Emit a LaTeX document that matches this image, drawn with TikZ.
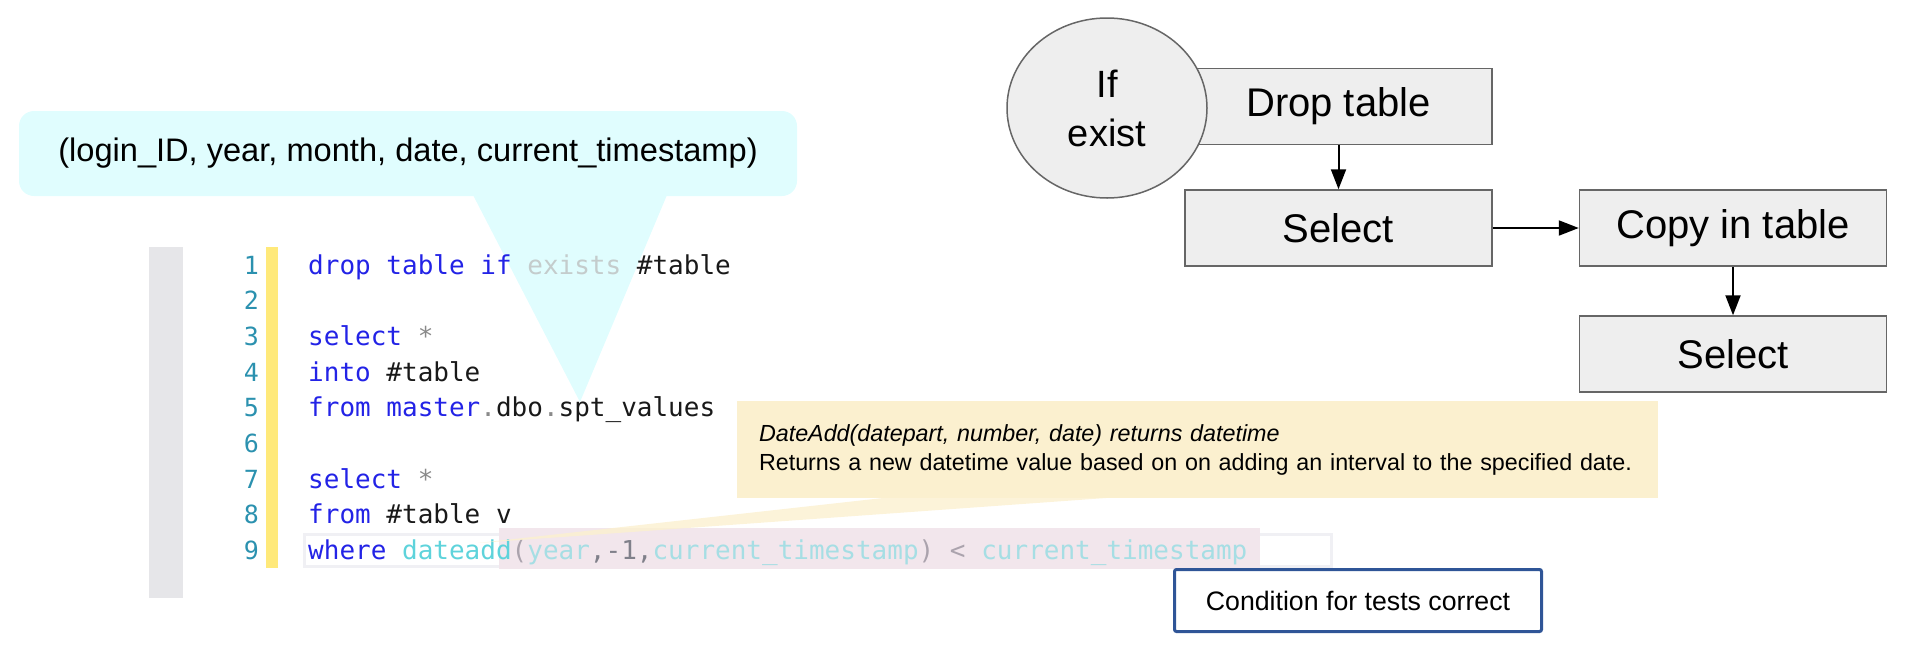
\documentclass[tikz,border=0pt]{standalone}
\usepackage{fontspec}
\setmainfont{Liberation Sans}
\newfontfamily\codefont{DejaVu Sans Mono}
\usetikzlibrary{shapes.geometric,arrows.meta}

\definecolor{boxfill}{HTML}{EEEEEE}
\definecolor{boxline}{HTML}{666666}
\definecolor{tipcyan}{HTML}{E0FDFE}
\definecolor{tipyellow}{HTML}{FBF0CF}
\definecolor{condblue}{HTML}{2F5597}
\definecolor{kwblue}{HTML}{2323E6}
\definecolor{lnteal}{HTML}{2B91AF}
\definecolor{fngray}{HTML}{8A8A8A}
\definecolor{lightgray}{HTML}{C4CCCC}
\definecolor{fncyan}{HTML}{5ED3DB}
\definecolor{fadecyan}{HTML}{A6DEE4}
\definecolor{fadegray}{HTML}{ABA3AD}
\definecolor{midgray}{HTML}{80808A}
\definecolor{rowpink}{HTML}{F2E6EC}
\definecolor{rowgray}{HTML}{F0F0F4}
\definecolor{gutter}{HTML}{E6E6E9}
\definecolor{changebar}{HTML}{FFE97A}

\tikzset{
  stepbox/.style={draw=boxline, fill=boxfill, line width=1.5pt, minimum width=307pt,
    minimum height=76pt, inner sep=0pt, font=\fontsize{40}{48}\selectfont},
  flow/.style={-{Triangle[length=20pt,width=15pt]}, line width=2pt},
  codeline/.style={anchor=base west, inner sep=0pt, text=black!90,
    font=\codefont\fontsize{26}{30}\selectfont},
  lineno/.style={anchor=base east, inner sep=0pt, text=lnteal,
    font=\codefont\fontsize{25}{28}\selectfont},
}

\begin{document}
\begin{tikzpicture}[x=1pt,y=-1pt]
    \useasboundingbox (0,0) rectangle (1912,654);

    % editor
    \fill[gutter] (149,247) rectangle (183,598);
    \fill[changebar] (266,247) rectangle (278,568);
    \draw[rowgray, line width=3pt] (304.5,534.5) rectangle (1331.5,566.5);
    \fill[rowpink] (499,528) rectangle (1260,569);
    \foreach \n in {1,...,9}
      \node[lineno] (num\n) at (259,{274+(\n-1)*35.7}) {\n};

    % field list callout
    \node[fill=tipcyan, rounded corners=15pt, minimum width=778pt, minimum height=85pt,
      inner sep=0pt, font=\fontsize{32.6}{36}\selectfont] (fields) at (408,153.5)
      {(login\_ID, year, month, date, current\_timestamp)};
    \coordinate (fieldstip) at (580,402);
    \fill[tipcyan] (473,195) -- (fieldstip) -- (667,195) -- cycle;

    \node[codeline] (code1) at (308,274) {\textcolor{kwblue}{drop table if} \textcolor{lightgray}{exists} \#table};
    \node[codeline] (code3) at (308,345.4) {\textcolor{kwblue}{select} \textcolor{fngray}{*}};
    \node[codeline] (code4) at (308,381.1) {\textcolor{kwblue}{into} \#table};
    \node[codeline] (code5) at (308,416.8) {\textcolor{kwblue}{from master}\textcolor{fngray}{.}dbo\textcolor{fngray}{.}spt\_values};
    \node[codeline] (code7) at (308,488.2) {\textcolor{kwblue}{select} \textcolor{fngray}{*}};
    \node[codeline] (code8) at (308,523.9) {\textcolor{kwblue}{from} \#table v};
    \node[codeline] (code9) at (308,559.6) {\textcolor{kwblue}{where} \textcolor{fncyan}{dateadd}\textcolor{fadegray}{(}\textcolor{fadecyan}{year}\textcolor{midgray}{,-1,}\textcolor{fadecyan}{current\_timestamp}\textcolor{fadegray}{) <} \textcolor{fadecyan}{current\_timestamp}};

    % dateadd hint
    \node[fill=tipyellow, minimum width=921pt, minimum height=97pt, inner sep=0pt,
      text width=877pt, align=left, font=\fontsize{23.3}{29}\selectfont] (datehint) at (1197.5,449.5)
      {\textit{DateAdd(datepart, number, date) returns datetime}\\
       Returns a new datetime value based on on adding an interval to the specified date.};
    \coordinate (hinttip) at (478,543);
    \fill[tipyellow, opacity=0.8] (892,497) -- (hinttip) -- (1120,497) -- cycle;

    \node[draw=condblue, line width=3pt, rounded corners=2pt, minimum width=367pt,
      minimum height=62pt, inner sep=0pt, font=\fontsize{26.7}{30}\selectfont] (cond) at (1358,600.5)
      {Condition for tests correct};

    % flow
    \node[stepbox] (drop) at (1338.5,106.5) {Drop table};
    \node[ellipse, draw=boxline, fill=boxfill, line width=1.5pt, minimum width=200pt,
      minimum height=180pt, inner sep=0pt, align=center,
      font=\fontsize{38}{49}\selectfont] (ifexist) at (1107,108) {If\\exist};
    \node[stepbox] (sel1) at (1338.5,228) {Select};
    \node[stepbox] (copy) at (1733,228) {Copy in table};
    \node[stepbox] (sel2) at (1733,354) {Select};
    \draw[flow] (drop) -- (sel1);
    \draw[flow] (sel1) -- (copy);
    \draw[flow] (copy) -- (sel2);
\end{tikzpicture}
\end{document}
